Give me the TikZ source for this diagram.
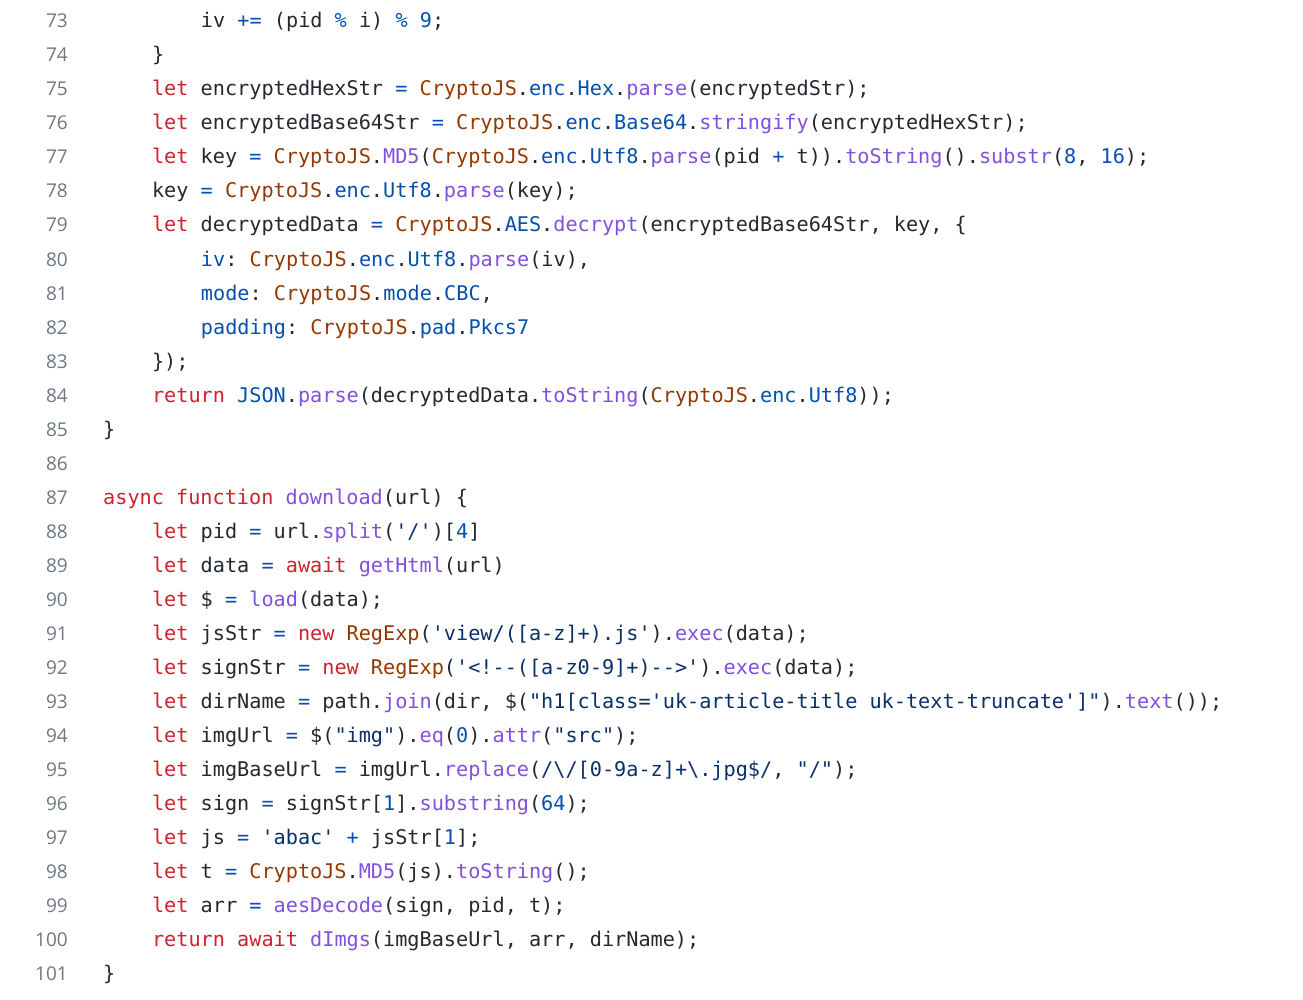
\documentclass[tikz,border=0pt]{standalone}
\usepackage{fontspec}
\setmonofont{DejaVu Sans Mono}
\newfontfamily\numfont{Open Sans}
\definecolor{ckw}{HTML}{CF222E}
\definecolor{ccj}{HTML}{953800}
\definecolor{cpr}{HTML}{0550AE}
\definecolor{cfn}{HTML}{8250DF}
\definecolor{cst}{HTML}{0A3069}
\definecolor{ctx}{HTML}{24292F}
\definecolor{cln}{HTML}{6E7781}
\newcommand{\kw}[1]{\textcolor{ckw}{#1}}
\newcommand{\cj}[1]{\textcolor{ccj}{#1}}
\newcommand{\pr}[1]{\textcolor{cpr}{#1}}
\newcommand{\fn}[1]{\textcolor{cfn}{#1}}
\newcommand{\st}[1]{\textcolor{cst}{#1}}
\newcommand{\nm}[1]{\textcolor{cpr}{#1}}
\newcommand{\op}[1]{\textcolor{cpr}{#1}}
\tikzset{code/.style={anchor=base west,inner sep=0pt,font=\ttfamily\fontsize{20.2}{24}\selectfont,text=ctx},
lnum/.style={anchor=base east,inner sep=0pt,font=\numfont\fontsize{19}{24}\selectfont,text=cln}}
\newcommand{\cl}[3]{%
 \node[lnum] (n#1) at (68,{21+(#1-73)*34+7}) {#1};
 \node[code] (c#1) at ({103+#2*12.22},{21+(#1-73)*34+7}) {\strut #3};}
\begin{document}
\begin{tikzpicture}[x=1pt,y=-1pt]
\useasboundingbox[fill=white] (0,0) rectangle (1303,1000);
\cl{73}{8}{iv \op{+=} (pid \op{\%} i) \op{\%} \nm{9};}
\cl{74}{4}{\}}
\cl{75}{4}{\kw{let} encryptedHexStr \op{=} \cj{CryptoJS}.\pr{enc}.\pr{Hex}.\fn{parse}(encryptedStr);}
\cl{76}{4}{\kw{let} encryptedBase64Str \op{=} \cj{CryptoJS}.\pr{enc}.\pr{Base64}.\fn{stringify}(encryptedHexStr);}
\cl{77}{4}{\kw{let} key \op{=} \cj{CryptoJS}.\fn{MD5}(\cj{CryptoJS}.\pr{enc}.\pr{Utf8}.\fn{parse}(pid \op{+} t)).\fn{toString}().\fn{substr}(\nm{8}, \nm{16});}
\cl{78}{4}{key \op{=} \cj{CryptoJS}.\pr{enc}.\pr{Utf8}.\fn{parse}(key);}
\cl{79}{4}{\kw{let} decryptedData \op{=} \cj{CryptoJS}.\pr{AES}.\fn{decrypt}(encryptedBase64Str, key, \{}
\cl{80}{8}{\pr{iv}: \cj{CryptoJS}.\pr{enc}.\pr{Utf8}.\fn{parse}(iv),}
\cl{81}{8}{\pr{mode}: \cj{CryptoJS}.\pr{mode}.\pr{CBC},}
\cl{82}{8}{\pr{padding}: \cj{CryptoJS}.\pr{pad}.\pr{Pkcs7}}
\cl{83}{4}{\});}
\cl{84}{4}{\kw{return} \pr{JSON}.\fn{parse}(decryptedData.\fn{toString}(\cj{CryptoJS}.\pr{enc}.\pr{Utf8}));}
\cl{85}{0}{\}}
\cl{86}{0}{}
\cl{87}{0}{\kw{async} \kw{function} \fn{download}(url) \{}
\cl{88}{4}{\kw{let} pid \op{=} url.\fn{split}(\st{'/'})[\nm{4}]}
\cl{89}{4}{\kw{let} data \op{=} \kw{await} \fn{getHtml}(url)}
\cl{90}{4}{\kw{let} \$ \op{=} \fn{load}(data);}
\cl{91}{4}{\kw{let} jsStr \op{=} \kw{new} \cj{RegExp}(\st{'view/([a-z]+).js'}).\fn{exec}(data);}
\cl{92}{4}{\kw{let} signStr \op{=} \kw{new} \cj{RegExp}(\st{'<!-{}-([a-z0-9]+)-{}->'}).\fn{exec}(data);}
\cl{93}{4}{\kw{let} dirName \op{=} path.\fn{join}(dir, \$(\st{"h1[class='uk-article-title uk-text-truncate']"}).\fn{text}());}
\cl{94}{4}{\kw{let} imgUrl \op{=} \$(\st{"img"}).\fn{eq}(\nm{0}).\fn{attr}(\st{"src"});}
\cl{95}{4}{\kw{let} imgBaseUrl \op{=} imgUrl.\fn{replace}(\st{/\textbackslash/[0-9a-z]+\textbackslash.jpg\$/}, \st{"/"});}
\cl{96}{4}{\kw{let} sign \op{=} signStr[\nm{1}].\fn{substring}(\nm{64});}
\cl{97}{4}{\kw{let} js \op{=} \st{'abac'} \op{+} jsStr[\nm{1}];}
\cl{98}{4}{\kw{let} t \op{=} \cj{CryptoJS}.\fn{MD5}(js).\fn{toString}();}
\cl{99}{4}{\kw{let} arr \op{=} \fn{aesDecode}(sign, pid, t);}
\cl{100}{4}{\kw{return} \kw{await} \fn{dImgs}(imgBaseUrl, arr, dirName);}
\cl{101}{0}{\}}
\end{tikzpicture}
\end{document}
